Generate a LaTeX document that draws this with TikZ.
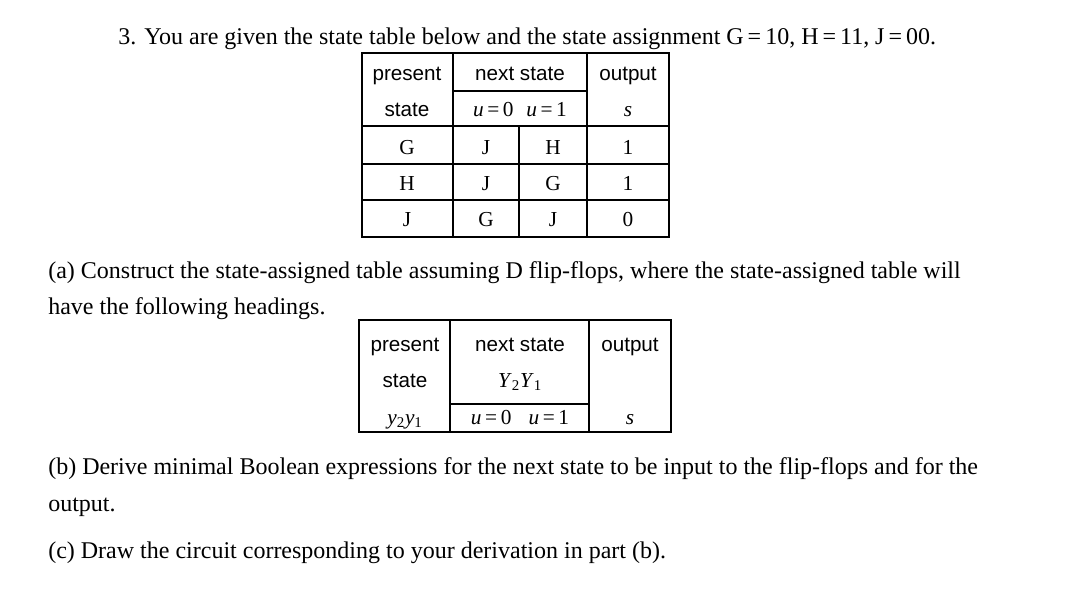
\documentclass[tikz,border=0pt]{standalone}
\usepackage{fontspec}
\setmainfont{Liberation Serif}
\newfontfamily\tsans{Liberation Sans}
\begin{document}
\begin{tikzpicture}[x=0.75pt,y=-0.75pt,
  body/.style={anchor=base west,inner sep=0,font=\fontsize{18}{21}\selectfont},
  cell/.style={anchor=base,inner sep=0,font=\fontsize{16}{19}\selectfont},
  scell/.style={anchor=base,inner sep=0,font=\tsans\fontsize{15.5}{19}\selectfont},
  grid/.style={line width=0.8pt}]
\useasboundingbox (0,0) rectangle (1083,603);
\node[body] (l1) at (118,45) {3. You are given the state table below and the state assignment G\,=\,10, H\,=\,11, J\,=\,00.};
\node[body] (l2) at (48,278) {(a) Construct the state-assigned table assuming D flip-flops, where the state-assigned table will};
\node[body] (l3) at (48,314) {have the following headings.};
\node[body] (l4) at (48,474) {(b) Derive minimal Boolean expressions for the next state to be input to the flip-flops and for the};
\node[body] (l5) at (48,511) {output.};
\node[body] (l6) at (48,558) {(c) Draw the circuit corresponding to your derivation in part (b).};
% table 1
\draw[grid] (362,53) rectangle (669,237);
\draw[grid] (453,53) -- (453,237);
\draw[grid] (587,53) -- (587,237);
\draw[grid] (519,126) -- (519,237);
\draw[grid] (453,91) -- (587,91);
\draw[grid] (362,126) -- (669,126);
\draw[grid] (362,164) -- (669,164);
\draw[grid] (362,200) -- (669,200);
\node[scell] (a1) at (407,80) {present};
\node[scell] (a2) at (520,80) {next state};
\node[scell] (a3) at (628,80) {output};
\node[scell] (b1) at (407,116) {state};
\node[cell] (b2) at (520,116) {\textit{u}\,=\,0\hspace{0.6em}\textit{u}\,=\,1};
\node[cell] (b3) at (628,116) {\textit{s}};
\node[cell] (c1) at (407,154) {G};
\node[cell] (c2) at (486,154) {J};
\node[cell] (c3) at (553,154) {H};
\node[cell] (c4) at (628,154) {1};
\node[cell] (d1) at (407,190) {H};
\node[cell] (d2) at (486,190) {J};
\node[cell] (d3) at (553,190) {G};
\node[cell] (d4) at (628,190) {1};
\node[cell] (e1) at (407,226) {J};
\node[cell] (e2) at (486,226) {G};
\node[cell] (e3) at (553,226) {J};
\node[cell] (e4) at (628,226) {0};
% table 2
\draw[grid] (359,320) rectangle (671,432);
\draw[grid] (450,320) -- (450,432);
\draw[grid] (589,320) -- (589,432);
\draw[grid] (450,404) -- (589,404);
\node[scell] (f1) at (405,351) {present};
\node[scell] (f2) at (520,351) {next state};
\node[scell] (f3) at (630,351) {output};
\node[scell] (g1) at (405,387) {state};
\node[cell] (g2) at (520,387) {\textit{Y}\textsubscript{2}\textit{Y}\textsubscript{1}};
\node[cell] (h1) at (405,424) {\textit{y}\textsubscript{2}\textit{y}\textsubscript{1}};
\node[cell] (h2) at (520,424) {\textit{u}\,=\,0\hspace{0.8em}\textit{u}\,=\,1};
\node[cell] (h3) at (630,424) {\textit{s}};
\end{tikzpicture}
\end{document}
